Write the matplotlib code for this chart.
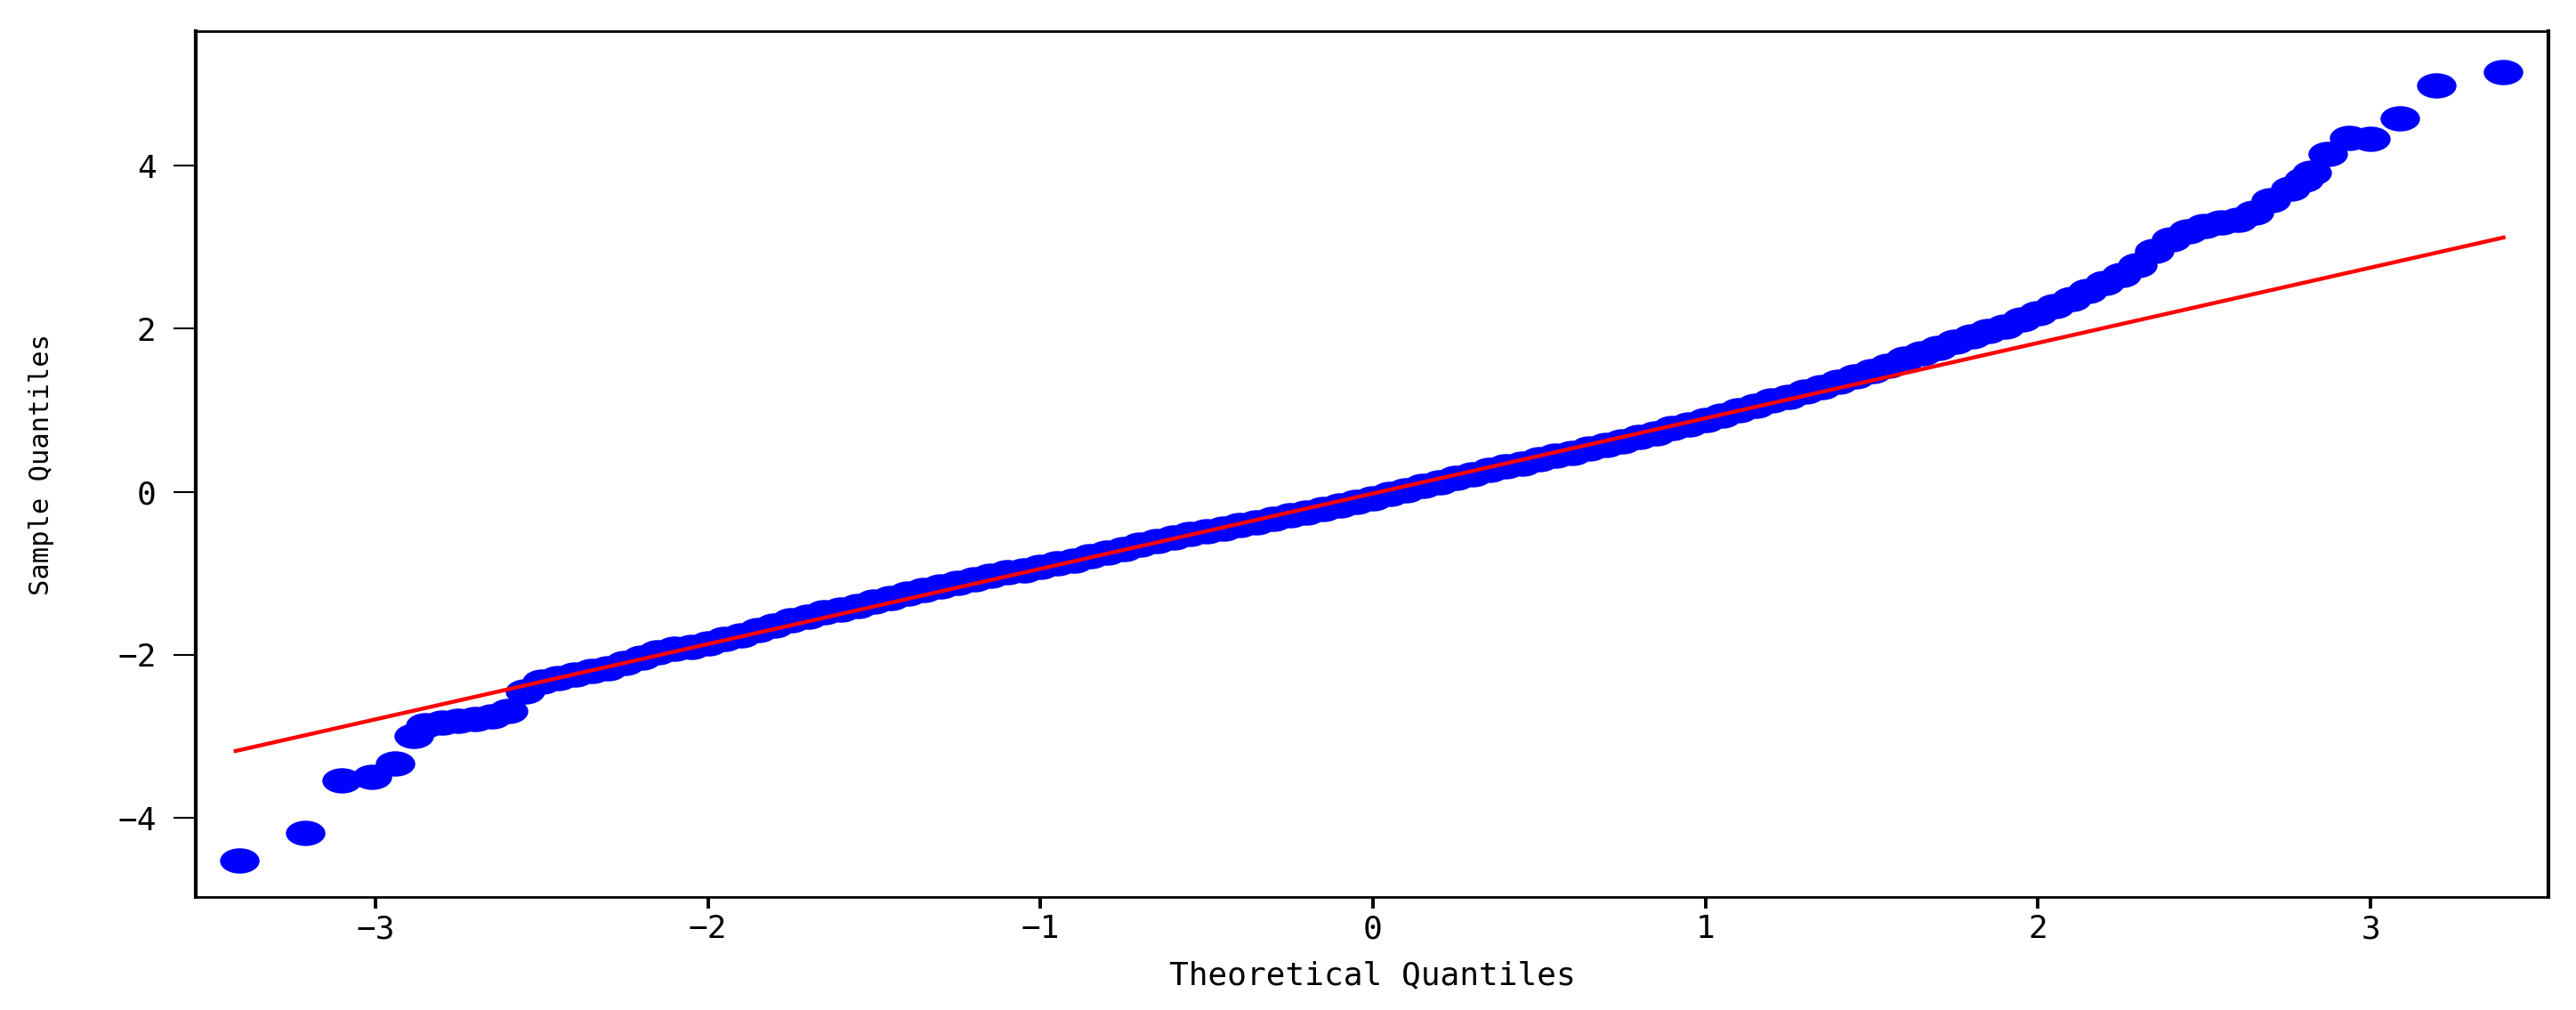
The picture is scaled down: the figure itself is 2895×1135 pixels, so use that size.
import matplotlib
matplotlib.use("Agg")
import matplotlib.pyplot as plt
from matplotlib.path import Path
from matplotlib.transforms import Affine2D

# Points (theoretical quantile, sample quantile)
theo = [-3.41, -3.21, -3.10, -3.01, -2.94, -2.885,
        -2.85, -2.80, -2.75, -2.70, -2.65, -2.60, -2.55, -2.50, -2.45, -2.40,
        -2.35, -2.30, -2.25, -2.20, -2.15, -2.10, -2.05, -2.00, -1.95, -1.90,
        -1.85, -1.80, -1.75, -1.70, -1.65, -1.60, -1.55, -1.50, -1.45, -1.40,
        -1.35, -1.30, -1.25, -1.20, -1.15, -1.10, -1.05, -1.00, -0.95, -0.90,
        -0.85, -0.80, -0.75, -0.70, -0.65, -0.60, -0.55, -0.50, -0.45, -0.40,
        -0.35, -0.30, -0.25, -0.20, -0.15, -0.10, -0.05, 0.00, 0.05, 0.10,
        0.15, 0.20, 0.25, 0.30, 0.35, 0.40, 0.45, 0.50, 0.55, 0.60,
        0.65, 0.70, 0.75, 0.80, 0.85, 0.90, 0.95, 1.00, 1.05, 1.10,
        1.15, 1.20, 1.25, 1.30, 1.35, 1.40, 1.45, 1.50, 1.55, 1.60,
        1.65, 1.70, 1.75, 1.80, 1.85, 1.90, 1.95, 2.00, 2.05, 2.10,
        2.15, 2.20, 2.25, 2.30, 2.35, 2.40, 2.45, 2.50, 2.55, 2.60,
        2.65, 2.70, 2.76, 2.80, 2.823, 2.872, 2.935, 3.00, 3.087, 3.199, 3.398]
sample = [-4.52, -4.19, -3.54, -3.50, -3.33, -2.99,
          -2.86, -2.83, -2.81, -2.79, -2.75, -2.69, -2.45, -2.33, -2.28, -2.24,
          -2.20, -2.16, -2.10, -2.03, -1.97, -1.93, -1.90, -1.86, -1.81, -1.76,
          -1.70, -1.64, -1.58, -1.53, -1.48, -1.44, -1.40, -1.35, -1.30, -1.25,
          -1.20, -1.16, -1.12, -1.07, -1.03, -0.99, -0.96, -0.92, -0.88, -0.84,
          -0.79, -0.75, -0.70, -0.65, -0.60, -0.56, -0.52, -0.48, -0.45, -0.41,
          -0.37, -0.33, -0.29, -0.25, -0.21, -0.17, -0.12, -0.08, -0.03, 0.02,
          0.07, 0.12, 0.17, 0.22, 0.27, 0.31, 0.35, 0.40, 0.44, 0.48,
          0.53, 0.57, 0.62, 0.67, 0.72, 0.78, 0.83, 0.88, 0.94, 1.00,
          1.06, 1.12, 1.17, 1.23, 1.29, 1.35, 1.42, 1.48, 1.55, 1.63,
          1.70, 1.77, 1.84, 1.91, 1.97, 2.03, 2.11, 2.19, 2.28, 2.37,
          2.46, 2.56, 2.66, 2.78, 2.95, 3.10, 3.20, 3.26, 3.30, 3.34,
          3.43, 3.58, 3.72, 3.83, 3.92, 4.14, 4.34, 4.33, 4.58, 4.99, 5.15]

# Reference line end points
line_x = [-3.42, 3.40]
line_y = [-3.18, 3.12]

xticks = [-3, -2, -1, 0, 1, 2, 3]
yticks = [-4, -2, 0, 2, 4]

plt.rcParams['font.family'] = ['DejaVu Sans Mono']

fig = plt.figure(figsize=(28.95, 11.35), dpi=100)
ax = fig.add_axes([0.076, 0.112, 0.9133, 0.857])

# the reference is stretched sideways, so the dots are flat ellipses
ellipse = Path.unit_circle().transformed(Affine2D().scale(1.0, 0.64))

ax.plot(theo, sample, linestyle='none', marker=ellipse, markersize=32,
        color='b', markeredgewidth=0)
ax.plot(line_x, line_y, color='r', linewidth=3.2)

ax.set_xlim(-3.54, 3.535)
ax.set_ylim(-4.97, 5.65)
ax.set_xticks(xticks)
ax.set_yticks(yticks)

# side spines look heavier than top/bottom in the stretched original
ax.spines['left'].set_linewidth(3.0)
ax.spines['right'].set_linewidth(3.0)
ax.spines['top'].set_linewidth(2.0)
ax.spines['bottom'].set_linewidth(2.0)

ax.tick_params(axis='x', length=9, width=2.8, labelsize=26, pad=5)
ax.tick_params(axis='y', length=18, width=1.5, labelsize=26, pad=14)

ax.set_xlabel('Theoretical Quantiles', fontsize=26)
ax.xaxis.set_label_coords(0.5, -0.073)
ax.set_ylabel('Sample Quantiles', fontsize=22)
ax.yaxis.set_label_coords(-0.060, 0.5)

fig.savefig('out.png', dpi=100)
